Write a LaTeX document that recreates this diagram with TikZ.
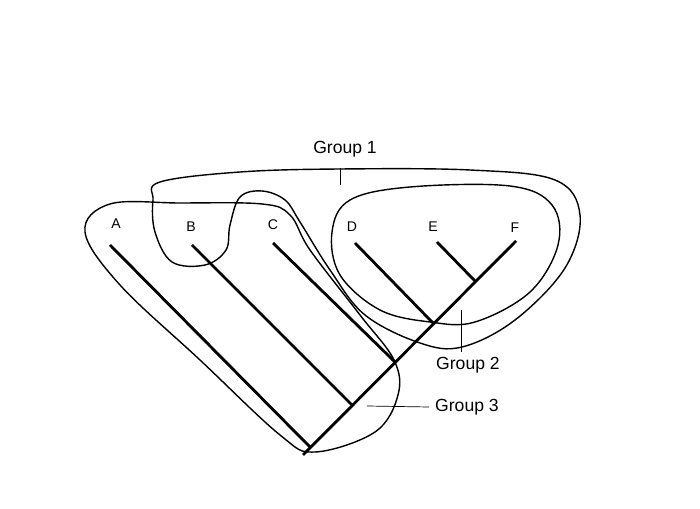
\documentclass[tikz,border=0pt]{standalone}
\usepackage{fontspec}
\setmainfont{Liberation Sans}
\begin{document}
\begin{tikzpicture}[
    x=0.02cm, y=-0.02cm,
    % Styles
    branch/.style={% tree lines
        line width=1.6pt,
    },
    outline/.style={% group outlines
        thick,
    },
    taxon/.style={
        font=\footnotesize,
    },
    grouplabel/.style={
        font=\normalsize,
        anchor=west,
    },
    ]
    \useasboundingbox (0,0) rectangle (700,509);

    % Tips and joints
    \coordinate (root) at (303,455);
    \coordinate (jA) at (310,447);
    \coordinate (jB) at (352,405);
    \coordinate (jC) at (395,362);
    \coordinate (jD) at (433,323);
    \coordinate (jE) at (475,281);
    \coordinate (tF) at (516,241);

    % Taxon names
    \node[taxon] (A) at (116,224) {A};
    \node[taxon] (B) at (191,227) {B};
    \node[taxon] (C) at (273,225) {C};
    \node[taxon] (D) at (352,227) {D};
    \node[taxon] (E) at (433,227) {E};
    \node[taxon] (F) at (515,228) {F};

    % Tree
    \draw[branch] (root) -- (tF);
    \draw[branch] (110,245) -- (jA);
    \draw[branch] (192,245) -- (jB);
    \draw[branch] (273,243) -- (jC);
    \draw[branch] (355,243) -- (jD);
    \draw[branch] (437,242) -- (jE);

    % Group 3
    \draw[outline] plot[smooth cycle, tension=0.6] coordinates {
        (85,232) (110,204) (180,203) (262,204) (290,215) (310,250)
        (360,315) (394,360) (398,395) (375,432) (315,452)
        (280,435) (200,360) (120,285)};

    % Group 1
    \draw[outline] plot[smooth cycle, tension=0.6] coordinates {
        (160,182) (240,172) (340,169) (470,170) (555,180) (580,215)
        (565,268) (515,320) (462,347) (420,343) (365,315) (330,270)
        (300,222) (285,200) (262,191) (240,197) (230,225) (226,250)
        (205,265) (172,262) (155,232) (153,200)};

    % Group 2
    \draw[outline] plot[smooth cycle, tension=0.6] coordinates {
        (332,232) (350,200) (410,187) (510,186) (552,205) (558,245)
        (530,292) (475,322) (430,322) (380,310) (340,275)};

    % Group labels
    \node[font=\normalsize] (g1) at (345,149) {Group 1};
    \node[grouplabel] (g2) at (430,365) {Group 2};
    \node[grouplabel] (g3) at (429,407) {Group 3};
    \coordinate (t1) at (340,168);
    \draw (t1) -- ++(0,17);
    \coordinate (t2) at (461,310);
    \draw (t2) -- ++(0,42);
    \coordinate (t3) at (367,406);
    \draw (t3) -- (g3.west);
\end{tikzpicture}
\end{document}
